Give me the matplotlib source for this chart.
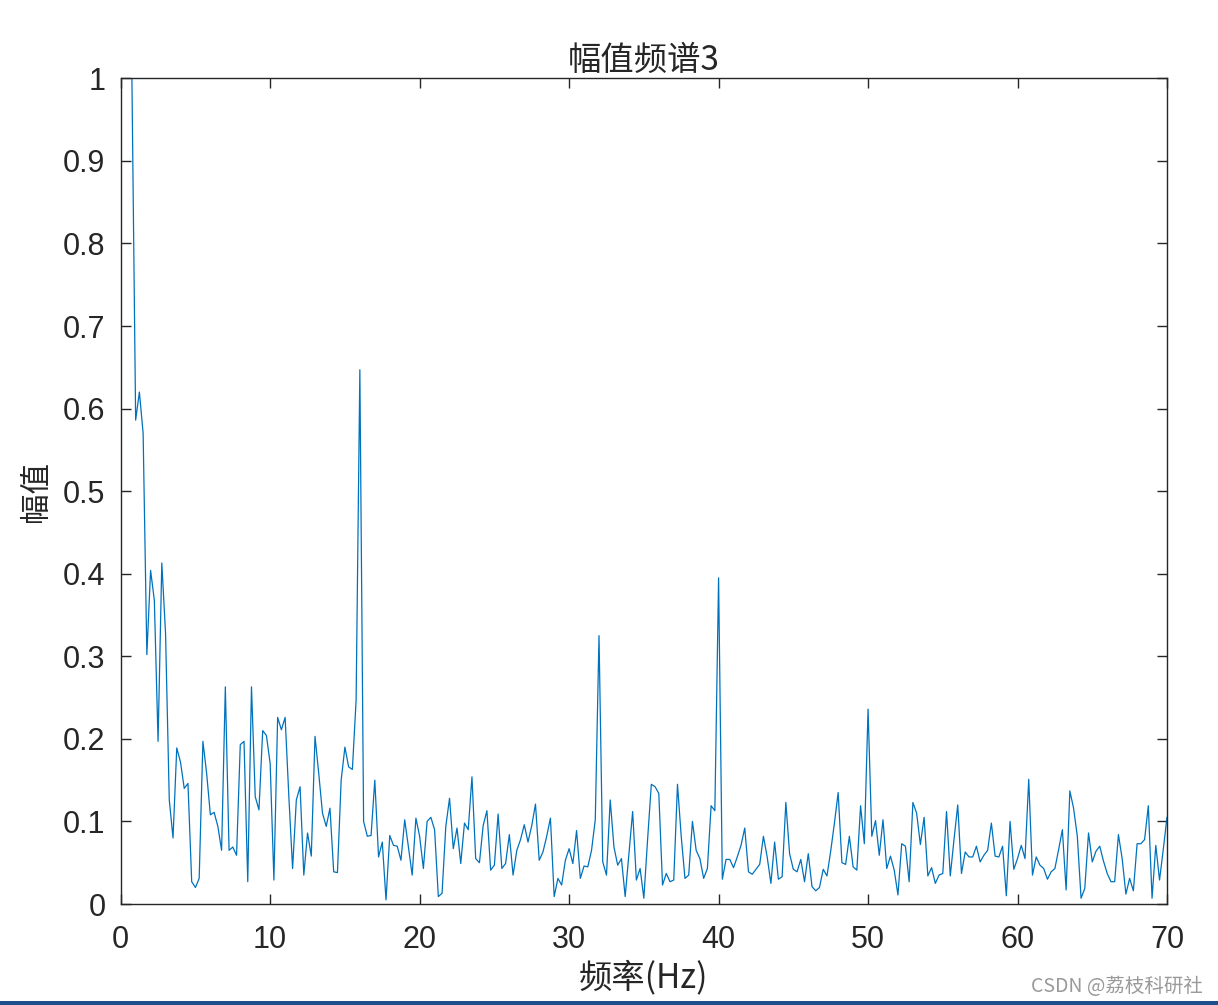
import numpy as np
import matplotlib
matplotlib.use("Agg")
import matplotlib.pyplot as plt
from matplotlib.patches import Rectangle

plt.rcParams['font.family'] = ['Liberation Sans', 'Noto Sans CJK SC', 'DejaVu Sans']

# ---- data ----
freq_start = 0.75   # Hz
freq_step = 0.25    # Hz
amplitude = [
    1.000, 0.586, 0.620, 0.570, 0.302, 0.404, 0.368, 0.197, 0.413, 0.328,
    0.126, 0.080, 0.189, 0.172, 0.140, 0.146, 0.027, 0.020, 0.031, 0.197,
    0.158, 0.108, 0.111, 0.094, 0.065, 0.263, 0.065, 0.069, 0.059, 0.193,
    0.197, 0.027, 0.263, 0.130, 0.114, 0.210, 0.204, 0.170, 0.029, 0.226,
    0.211, 0.226, 0.130, 0.043, 0.126, 0.142, 0.035, 0.086, 0.058, 0.203,
    0.158, 0.110, 0.094, 0.116, 0.039, 0.038, 0.150, 0.190, 0.166, 0.163,
    0.247, 0.647, 0.100, 0.082, 0.083, 0.150, 0.057, 0.075, 0.005, 0.083,
    0.071, 0.070, 0.053, 0.102, 0.069, 0.035, 0.104, 0.082, 0.043, 0.100,
    0.105, 0.090, 0.009, 0.013, 0.094, 0.128, 0.067, 0.092, 0.049, 0.098,
    0.090, 0.154, 0.055, 0.050, 0.095, 0.113, 0.041, 0.047, 0.109, 0.043,
    0.049, 0.084, 0.035, 0.065, 0.078, 0.096, 0.075, 0.095, 0.121, 0.053,
    0.063, 0.082, 0.104, 0.009, 0.031, 0.023, 0.053, 0.067, 0.049, 0.089,
    0.031, 0.046, 0.045, 0.065, 0.102, 0.325, 0.051, 0.035, 0.126, 0.069,
    0.047, 0.055, 0.009, 0.060, 0.112, 0.029, 0.043, 0.007, 0.078, 0.145,
    0.142, 0.134, 0.023, 0.037, 0.027, 0.029, 0.145, 0.082, 0.031, 0.035,
    0.100, 0.065, 0.055, 0.031, 0.043, 0.119, 0.113, 0.395, 0.030, 0.054,
    0.054, 0.044, 0.057, 0.071, 0.092, 0.039, 0.036, 0.042, 0.048, 0.082,
    0.057, 0.025, 0.075, 0.030, 0.033, 0.123, 0.061, 0.042, 0.039, 0.054,
    0.027, 0.061, 0.021, 0.016, 0.020, 0.042, 0.034, 0.064, 0.098, 0.135,
    0.050, 0.048, 0.082, 0.045, 0.041, 0.119, 0.073, 0.236, 0.082, 0.101,
    0.059, 0.102, 0.043, 0.058, 0.041, 0.011, 0.073, 0.070, 0.027, 0.123,
    0.110, 0.072, 0.105, 0.034, 0.044, 0.025, 0.035, 0.037, 0.112, 0.034,
    0.078, 0.120, 0.037, 0.063, 0.057, 0.057, 0.070, 0.051, 0.059, 0.065,
    0.098, 0.058, 0.057, 0.070, 0.010, 0.100, 0.042, 0.055, 0.071, 0.055,
    0.151, 0.035, 0.057, 0.047, 0.043, 0.030, 0.039, 0.043, 0.066, 0.090,
    0.017, 0.137, 0.116, 0.082, 0.007, 0.019, 0.086, 0.051, 0.064, 0.070,
    0.052, 0.037, 0.027, 0.027, 0.084, 0.055, 0.012, 0.031, 0.016, 0.073,
    0.073, 0.078, 0.119, 0.007, 0.071, 0.029, 0.066, 0.105,
]
x_ticks = [0, 10, 20, 30, 40, 50, 60, 70]
y_ticks = [0, 0.1, 0.2, 0.3, 0.4, 0.5, 0.6, 0.7, 0.8, 0.9, 1]
y_tick_labels = ['0', '0.1', '0.2', '0.3', '0.4', '0.5', '0.6', '0.7', '0.8', '0.9', '1']
title_text = '幅值频谱3'
xlabel_text = '频率(Hz)'
ylabel_text = '幅值'
watermark = 'CSDN @荔枝科研社'

freq = freq_start + freq_step * np.arange(len(amplitude))

# ---- figure ----
W, H = 1218, 1005
fig = plt.figure(figsize=(W / 100, H / 100), dpi=100)
left, right, top, bottom = 120.7, 1167.0, 78.3, 904.0
ax = fig.add_axes([left / W, 1 - bottom / H, (right - left) / W, (bottom - top) / H])

ax.plot(freq, amplitude, color='#0072BD', lw=0.9)

ax.set_xlim(0, 70)
ax.set_ylim(0, 1)
ax.set_xticks(x_ticks)
ax.set_xticklabels([str(t) for t in x_ticks])
ax.set_yticks(y_ticks)
ax.set_yticklabels(y_tick_labels)

dark = '#262626'
for s in ax.spines.values():
    s.set_color(dark)
    s.set_linewidth(1.0)
ax.tick_params(axis='both', which='both', direction='in', length=7, width=1.0,
               colors=dark, top=True, right=True, labelsize=22)
ax.tick_params(axis='x', pad=15)
ax.tick_params(axis='y', pad=11)

cjk = ['Noto Sans CJK SC', 'Liberation Sans']
ax.set_title(title_text, fontsize=24, color=dark, pad=6, family=cjk)
ax.set_xlabel(xlabel_text, fontsize=24, color=dark, labelpad=4, family=cjk)
ax.set_ylabel(ylabel_text, fontsize=22, color=dark, labelpad=8, family=cjk)

fig.text(1203 / W, 1 - 986 / H, watermark, ha='right', va='center',
         fontsize=14, color='#9a9a9a', family=cjk)

fig.patches.append(Rectangle((0, 0), 1, 4 / H, transform=fig.transFigure,
                             facecolor='#1e4d8c', edgecolor='none', zorder=10))

fig.savefig('out.png', dpi=100)
